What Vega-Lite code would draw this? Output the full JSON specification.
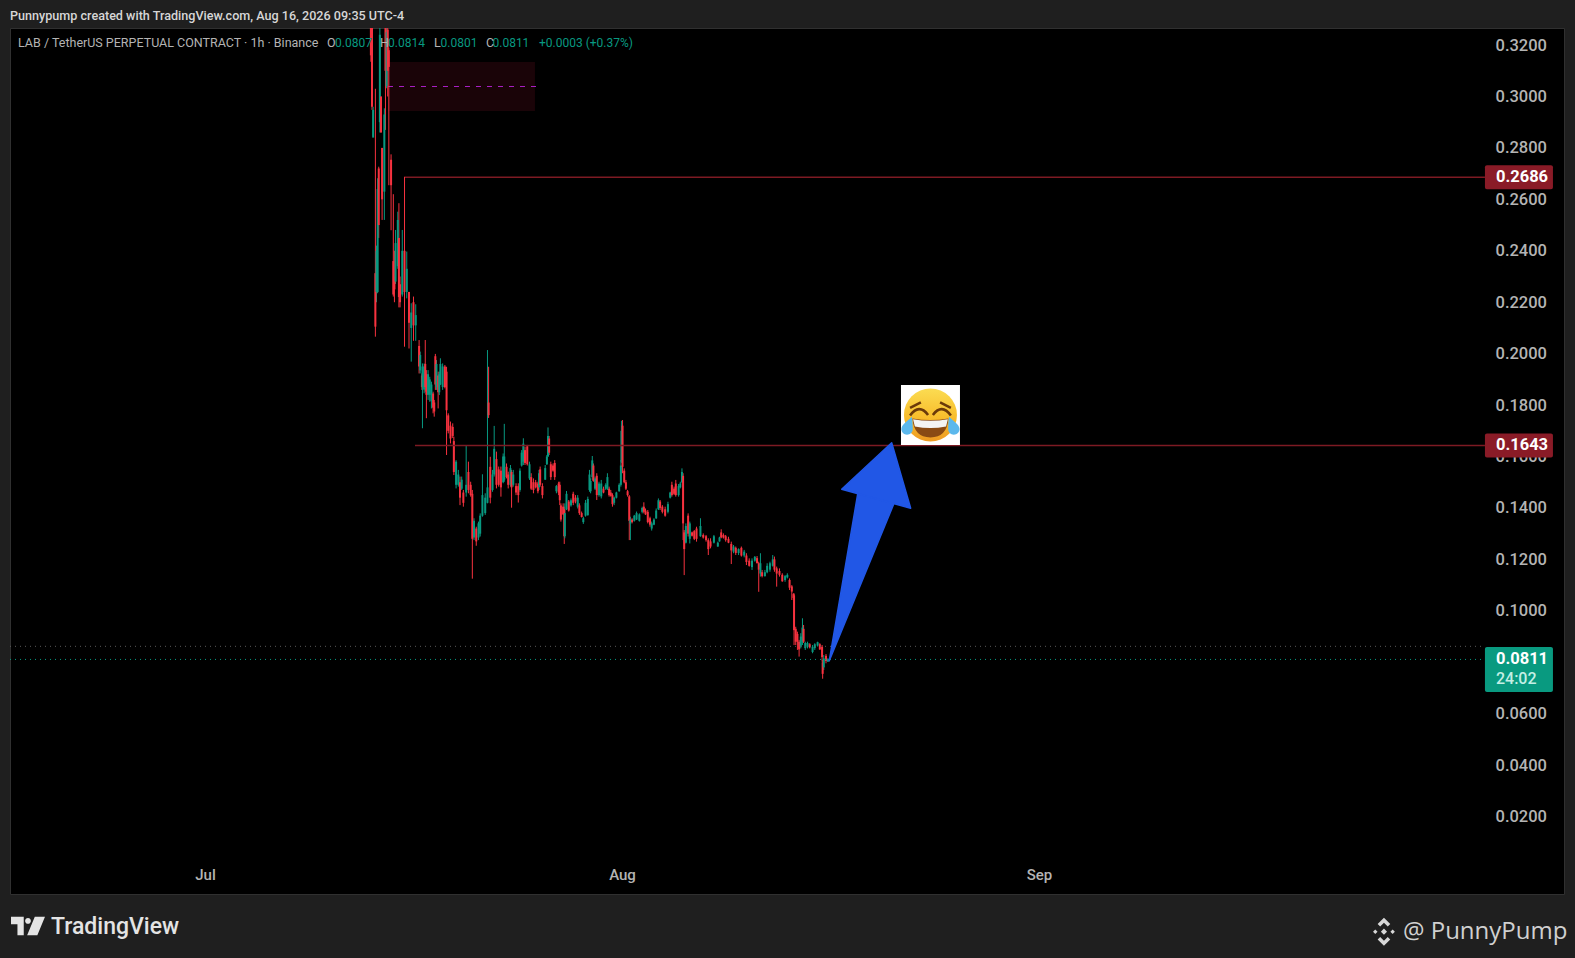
{"$schema":"https://vega.github.io/schema/vega-lite/v6.json","width":1554,"height":866,"autosize":{"type":"none"},"padding":{"left":10,"top":28,"right":11,"bottom":64},"background":"#1f1f1f","view":{"fill":"#000000","stroke":"#303030"},
"datasets":{"candles":[
{"t":"2026-07-13T08:00Z","o":0.342,"h":0.352,"l":0.3135,"c":0.316},
{"t":"2026-07-13T10:00Z","o":0.335,"h":0.35,"l":0.2948,"c":0.296},
{"t":"2026-07-13T12:00Z","o":0.284,"h":0.296,"l":0.2845,"c":0.2948},
{"t":"2026-07-13T16:00Z","o":0.2313,"h":0.303,"l":0.2066,"c":0.2105},
{"t":"2026-07-13T18:00Z","o":0.224,"h":0.242,"l":0.22,"c":0.24},
{"t":"2026-07-13T20:00Z","o":0.224,"h":0.2682,"l":0.2235,"c":0.264},
{"t":"2026-07-13T22:00Z","o":0.272,"h":0.2727,"l":0.245,"c":0.25},
{"t":"2026-07-14T00:00Z","o":0.29,"h":0.35,"l":0.286,"c":0.324},
{"t":"2026-07-14T02:00Z","o":0.3,"h":0.3,"l":0.286,"c":0.286},
{"t":"2026-07-14T04:00Z","o":0.28,"h":0.28,"l":0.252,"c":0.26},
{"t":"2026-07-14T08:00Z","o":0.263,"h":0.2954,"l":0.252,"c":0.293},
{"t":"2026-07-14T10:00Z","o":0.34,"h":0.36,"l":0.287,"c":0.31},
{"t":"2026-07-14T12:00Z","o":0.304,"h":0.36,"l":0.3032,"c":0.325},
{"t":"2026-07-14T14:00Z","o":0.326,"h":0.33,"l":0.3,"c":0.31},
{"t":"2026-07-14T16:00Z","o":0.318,"h":0.319,"l":0.2655,"c":0.3115},
{"t":"2026-07-14T20:00Z","o":0.2754,"h":0.2775,"l":0.248,"c":0.2655},
{"t":"2026-07-15T00:00Z","o":0.236,"h":0.262,"l":0.2222,"c":0.223},
{"t":"2026-07-15T02:00Z","o":0.23,"h":0.24,"l":0.22,"c":0.225},
{"t":"2026-07-15T04:00Z","o":0.228,"h":0.2481,"l":0.2271,"c":0.243},
{"t":"2026-07-15T08:00Z","o":0.234,"h":0.2552,"l":0.233,"c":0.252},
{"t":"2026-07-15T10:00Z","o":0.245,"h":0.2585,"l":0.218,"c":0.222},
{"t":"2026-07-15T12:00Z","o":0.227,"h":0.23,"l":0.218,"c":0.22},
{"t":"2026-07-15T16:00Z","o":0.223,"h":0.2481,"l":0.2222,"c":0.24},
{"t":"2026-07-15T20:00Z","o":0.24,"h":0.2688,"l":0.2027,"c":0.224},
{"t":"2026-07-16T00:00Z","o":0.224,"h":0.2397,"l":0.2215,"c":0.233},
{"t":"2026-07-16T04:00Z","o":0.224,"h":0.224,"l":0.202,"c":0.212},
{"t":"2026-07-16T08:00Z","o":0.21,"h":0.2196,"l":0.1969,"c":0.216},
{"t":"2026-07-16T12:00Z","o":0.22,"h":0.2222,"l":0.205,"c":0.211},
{"t":"2026-07-16T16:00Z","o":0.211,"h":0.2192,"l":0.205,"c":0.215},
{"t":"2026-07-16T22:00Z","o":0.203,"h":0.2053,"l":0.1923,"c":0.195},
{"t":"2026-07-17T00:00Z","o":0.1935,"h":0.2008,"l":0.1923,"c":0.1995},
{"t":"2026-07-17T03:00Z","o":0.1915,"h":0.1923,"l":0.1859,"c":0.187},
{"t":"2026-07-17T04:00Z","o":0.187,"h":0.1962,"l":0.171,"c":0.195},
{"t":"2026-07-17T07:00Z","o":0.186,"h":0.1962,"l":0.1846,"c":0.195},
{"t":"2026-07-17T09:00Z","o":0.196,"h":0.2053,"l":0.1852,"c":0.187},
{"t":"2026-07-17T11:00Z","o":0.192,"h":0.1936,"l":0.1749,"c":0.184},
{"t":"2026-07-17T14:00Z","o":0.184,"h":0.1936,"l":0.182,"c":0.192},
{"t":"2026-07-17T17:00Z","o":0.184,"h":0.191,"l":0.1813,"c":0.19},
{"t":"2026-07-17T20:00Z","o":0.1815,"h":0.1891,"l":0.1787,"c":0.188},
{"t":"2026-07-17T23:00Z","o":0.1845,"h":0.1852,"l":0.1768,"c":0.179},
{"t":"2026-07-18T01:00Z","o":0.181,"h":0.182,"l":0.1755,"c":0.1775},
{"t":"2026-07-18T03:00Z","o":0.199,"h":0.1999,"l":0.1859,"c":0.188},
{"t":"2026-07-18T05:00Z","o":0.187,"h":0.1975,"l":0.1859,"c":0.196},
{"t":"2026-07-18T08:00Z","o":0.1915,"h":0.193,"l":0.1787,"c":0.185},
{"t":"2026-07-18T10:00Z","o":0.185,"h":0.193,"l":0.1839,"c":0.192},
{"t":"2026-07-18T12:00Z","o":0.188,"h":0.1982,"l":0.1878,"c":0.196},
{"t":"2026-07-18T16:00Z","o":0.187,"h":0.1962,"l":0.1859,"c":0.195},
{"t":"2026-07-18T20:00Z","o":0.195,"h":0.1956,"l":0.1865,"c":0.187},
{"t":"2026-07-18T23:00Z","o":0.193,"h":0.1949,"l":0.1606,"c":0.178},
{"t":"2026-07-19T02:00Z","o":0.176,"h":0.1768,"l":0.169,"c":0.17},
{"t":"2026-07-19T06:00Z","o":0.172,"h":0.1736,"l":0.1651,"c":0.167},
{"t":"2026-07-19T10:00Z","o":0.1715,"h":0.1729,"l":0.1672,"c":0.168},
{"t":"2026-07-19T12:00Z","o":0.166,"h":0.1677,"l":0.1528,"c":0.154},
{"t":"2026-07-19T16:00Z","o":0.149,"h":0.1586,"l":0.1476,"c":0.158},
{"t":"2026-07-19T20:00Z","o":0.149,"h":0.1548,"l":0.1483,"c":0.153},
{"t":"2026-07-19T23:00Z","o":0.15,"h":0.1522,"l":0.1411,"c":0.144},
{"t":"2026-07-20T02:00Z","o":0.1475,"h":0.1522,"l":0.147,"c":0.151},
{"t":"2026-07-20T05:00Z","o":0.146,"h":0.147,"l":0.1405,"c":0.142},
{"t":"2026-07-20T10:00Z","o":0.146,"h":0.1641,"l":0.1444,"c":0.149},
{"t":"2026-07-20T14:00Z","o":0.154,"h":0.158,"l":0.1457,"c":0.147},
{"t":"2026-07-20T18:00Z","o":0.149,"h":0.1502,"l":0.1444,"c":0.145},
{"t":"2026-07-20T21:00Z","o":0.1455,"h":0.147,"l":0.1125,"c":0.128},
{"t":"2026-07-21T00:00Z","o":0.1285,"h":0.136,"l":0.1275,"c":0.135},
{"t":"2026-07-21T04:00Z","o":0.132,"h":0.1327,"l":0.1253,"c":0.127},
{"t":"2026-07-21T08:00Z","o":0.1285,"h":0.1347,"l":0.1275,"c":0.134},
{"t":"2026-07-21T11:00Z","o":0.13,"h":0.1379,"l":0.1289,"c":0.137},
{"t":"2026-07-21T15:00Z","o":0.137,"h":0.1531,"l":0.1366,"c":0.145},
{"t":"2026-07-21T20:00Z","o":0.138,"h":0.1457,"l":0.1373,"c":0.144},
{"t":"2026-07-22T00:00Z","o":0.142,"h":0.2014,"l":0.1418,"c":0.148},
{"t":"2026-07-22T02:00Z","o":0.181,"h":0.1949,"l":0.175,"c":0.1761},
{"t":"2026-07-22T05:00Z","o":0.156,"h":0.1599,"l":0.1418,"c":0.144},
{"t":"2026-07-22T09:00Z","o":0.147,"h":0.1548,"l":0.1463,"c":0.153},
{"t":"2026-07-22T12:00Z","o":0.153,"h":0.1719,"l":0.1522,"c":0.163},
{"t":"2026-07-22T16:00Z","o":0.159,"h":0.1619,"l":0.1476,"c":0.149},
{"t":"2026-07-22T20:00Z","o":0.155,"h":0.1561,"l":0.1483,"c":0.149},
{"t":"2026-07-23T00:00Z","o":0.1545,"h":0.1561,"l":0.1444,"c":0.148},
{"t":"2026-07-23T04:00Z","o":0.15,"h":0.1612,"l":0.1496,"c":0.16},
{"t":"2026-07-23T06:00Z","o":0.151,"h":0.1727,"l":0.1502,"c":0.16},
{"t":"2026-07-23T10:00Z","o":0.156,"h":0.1573,"l":0.1515,"c":0.152},
{"t":"2026-07-23T13:00Z","o":0.153,"h":0.1541,"l":0.1476,"c":0.149},
{"t":"2026-07-23T17:00Z","o":0.149,"h":0.1567,"l":0.1483,"c":0.1555},
{"t":"2026-07-23T19:00Z","o":0.154,"h":0.1548,"l":0.1401,"c":0.148},
{"t":"2026-07-23T22:00Z","o":0.149,"h":0.1548,"l":0.1483,"c":0.153},
{"t":"2026-07-24T03:00Z","o":0.1485,"h":0.1496,"l":0.145,"c":0.146},
{"t":"2026-07-24T07:00Z","o":0.1485,"h":0.1496,"l":0.1421,"c":0.145},
{"t":"2026-07-24T10:00Z","o":0.147,"h":0.1554,"l":0.1463,"c":0.1545},
{"t":"2026-07-24T13:00Z","o":0.1565,"h":0.1625,"l":0.1561,"c":0.1615},
{"t":"2026-07-24T16:00Z","o":0.158,"h":0.1671,"l":0.1567,"c":0.165},
{"t":"2026-07-24T19:00Z","o":0.1625,"h":0.1638,"l":0.1567,"c":0.1575},
{"t":"2026-07-24T23:00Z","o":0.164,"h":0.1645,"l":0.1565,"c":0.157},
{"t":"2026-07-25T03:00Z","o":0.1515,"h":0.158,"l":0.1509,"c":0.157},
{"t":"2026-07-25T06:00Z","o":0.152,"h":0.1535,"l":0.147,"c":0.1475},
{"t":"2026-07-25T10:00Z","o":0.15,"h":0.1515,"l":0.1457,"c":0.147},
{"t":"2026-07-25T14:00Z","o":0.15,"h":0.1509,"l":0.1476,"c":0.148},
{"t":"2026-07-25T18:00Z","o":0.1495,"h":0.1502,"l":0.1457,"c":0.1465},
{"t":"2026-07-25T20:00Z","o":0.148,"h":0.1548,"l":0.147,"c":0.1535},
{"t":"2026-07-25T22:00Z","o":0.155,"h":0.1561,"l":0.1483,"c":0.149},
{"t":"2026-07-26T02:00Z","o":0.1485,"h":0.1496,"l":0.1437,"c":0.145},
{"t":"2026-07-26T07:00Z","o":0.151,"h":0.1567,"l":0.1509,"c":0.1555},
{"t":"2026-07-26T10:00Z","o":0.157,"h":0.1606,"l":0.1567,"c":0.16},
{"t":"2026-07-26T12:00Z","o":0.16,"h":0.1713,"l":0.1599,"c":0.168},
{"t":"2026-07-26T14:00Z","o":0.167,"h":0.168,"l":0.1606,"c":0.1615},
{"t":"2026-07-26T17:00Z","o":0.157,"h":0.158,"l":0.1509,"c":0.152},
{"t":"2026-07-26T21:00Z","o":0.1565,"h":0.1573,"l":0.1541,"c":0.1545},
{"t":"2026-07-27T00:00Z","o":0.1575,"h":0.1586,"l":0.1509,"c":0.152},
{"t":"2026-07-27T03:00Z","o":0.1465,"h":0.1489,"l":0.1457,"c":0.1485},
{"t":"2026-07-27T07:00Z","o":0.1495,"h":0.1502,"l":0.145,"c":0.146},
{"t":"2026-07-27T09:00Z","o":0.149,"h":0.1502,"l":0.1411,"c":0.143},
{"t":"2026-07-27T11:00Z","o":0.141,"h":0.1418,"l":0.1347,"c":0.1355},
{"t":"2026-07-27T15:00Z","o":0.1405,"h":0.1418,"l":0.1373,"c":0.1375},
{"t":"2026-07-27T17:00Z","o":0.1395,"h":0.1405,"l":0.126,"c":0.129},
{"t":"2026-07-27T18:00Z","o":0.129,"h":0.1418,"l":0.1282,"c":0.138},
{"t":"2026-07-27T21:00Z","o":0.1395,"h":0.1466,"l":0.1392,"c":0.1455},
{"t":"2026-07-28T01:00Z","o":0.1425,"h":0.1431,"l":0.1386,"c":0.139},
{"t":"2026-07-28T05:00Z","o":0.141,"h":0.1437,"l":0.1405,"c":0.143},
{"t":"2026-07-28T09:00Z","o":0.1455,"h":0.1463,"l":0.1411,"c":0.142},
{"t":"2026-07-28T13:00Z","o":0.144,"h":0.145,"l":0.1418,"c":0.1425},
{"t":"2026-07-28T17:00Z","o":0.1405,"h":0.145,"l":0.1398,"c":0.144},
{"t":"2026-07-28T20:00Z","o":0.141,"h":0.1418,"l":0.1373,"c":0.138},
{"t":"2026-07-29T00:00Z","o":0.138,"h":0.1386,"l":0.1363,"c":0.1365},
{"t":"2026-07-29T03:00Z","o":0.1345,"h":0.1366,"l":0.1338,"c":0.136},
{"t":"2026-07-29T07:00Z","o":0.137,"h":0.1431,"l":0.1366,"c":0.142},
{"t":"2026-07-29T11:00Z","o":0.1372,"h":0.1444,"l":0.137,"c":0.1435},
{"t":"2026-07-29T14:00Z","o":0.147,"h":0.1548,"l":0.1463,"c":0.153},
{"t":"2026-07-29T16:00Z","o":0.1465,"h":0.1515,"l":0.1457,"c":0.1505},
{"t":"2026-07-29T19:00Z","o":0.152,"h":0.1602,"l":0.1509,"c":0.1585},
{"t":"2026-07-29T21:00Z","o":0.1565,"h":0.1573,"l":0.1502,"c":0.1505},
{"t":"2026-07-30T00:00Z","o":0.1475,"h":0.1522,"l":0.147,"c":0.1515},
{"t":"2026-07-30T03:00Z","o":0.1525,"h":0.1535,"l":0.1431,"c":0.145},
{"t":"2026-07-30T07:00Z","o":0.145,"h":0.1502,"l":0.1444,"c":0.1495},
{"t":"2026-07-30T11:00Z","o":0.1445,"h":0.1509,"l":0.1437,"c":0.1495},
{"t":"2026-07-30T15:00Z","o":0.1475,"h":0.1483,"l":0.1457,"c":0.146},
{"t":"2026-07-30T19:00Z","o":0.1475,"h":0.1496,"l":0.147,"c":0.149},
{"t":"2026-07-30T22:00Z","o":0.1475,"h":0.1535,"l":0.147,"c":0.152},
{"t":"2026-07-31T01:00Z","o":0.1475,"h":0.1483,"l":0.1444,"c":0.145},
{"t":"2026-07-31T04:00Z","o":0.146,"h":0.147,"l":0.1444,"c":0.1447},
{"t":"2026-07-31T07:00Z","o":0.145,"h":0.1457,"l":0.1405,"c":0.1415},
{"t":"2026-07-31T10:00Z","o":0.142,"h":0.1444,"l":0.1411,"c":0.144},
{"t":"2026-07-31T14:00Z","o":0.144,"h":0.1463,"l":0.1437,"c":0.146},
{"t":"2026-07-31T19:00Z","o":0.1465,"h":0.1496,"l":0.1463,"c":0.149},
{"t":"2026-07-31T22:00Z","o":0.149,"h":0.1586,"l":0.1483,"c":0.1565},
{"t":"2026-07-31T23:00Z","o":0.158,"h":0.1739,"l":0.1575,"c":0.17},
{"t":"2026-08-01T01:00Z","o":0.172,"h":0.1742,"l":0.1535,"c":0.156},
{"t":"2026-08-01T04:00Z","o":0.1545,"h":0.1554,"l":0.1496,"c":0.15},
{"t":"2026-08-01T07:00Z","o":0.15,"h":0.1509,"l":0.147,"c":0.1475},
{"t":"2026-08-01T10:00Z","o":0.1465,"h":0.147,"l":0.1444,"c":0.145},
{"t":"2026-08-01T13:00Z","o":0.1445,"h":0.145,"l":0.1275,"c":0.135},
{"t":"2026-08-01T15:00Z","o":0.134,"h":0.1366,"l":0.1275,"c":0.1355},
{"t":"2026-08-01T18:00Z","o":0.1355,"h":0.136,"l":0.134,"c":0.1345},
{"t":"2026-08-01T22:00Z","o":0.135,"h":0.1373,"l":0.1347,"c":0.137},
{"t":"2026-08-02T02:00Z","o":0.1355,"h":0.1386,"l":0.1353,"c":0.138},
{"t":"2026-08-02T07:00Z","o":0.135,"h":0.1379,"l":0.1347,"c":0.1375},
{"t":"2026-08-02T12:00Z","o":0.1385,"h":0.1405,"l":0.1379,"c":0.14},
{"t":"2026-08-02T15:00Z","o":0.1405,"h":0.1422,"l":0.1379,"c":0.1385},
{"t":"2026-08-02T18:00Z","o":0.139,"h":0.1398,"l":0.1373,"c":0.1375},
{"t":"2026-08-02T22:00Z","o":0.1385,"h":0.1392,"l":0.134,"c":0.1345},
{"t":"2026-08-03T02:00Z","o":0.136,"h":0.1366,"l":0.1327,"c":0.1335},
{"t":"2026-08-03T05:00Z","o":0.132,"h":0.1347,"l":0.1312,"c":0.134},
{"t":"2026-08-03T09:00Z","o":0.1335,"h":0.136,"l":0.1333,"c":0.1355},
{"t":"2026-08-03T13:00Z","o":0.136,"h":0.1398,"l":0.1357,"c":0.139},
{"t":"2026-08-03T17:00Z","o":0.1395,"h":0.1437,"l":0.1392,"c":0.143},
{"t":"2026-08-03T20:00Z","o":0.1425,"h":0.1431,"l":0.1392,"c":0.14},
{"t":"2026-08-04T00:00Z","o":0.1405,"h":0.1411,"l":0.1379,"c":0.1385},
{"t":"2026-08-04T05:00Z","o":0.1395,"h":0.1405,"l":0.1366,"c":0.137},
{"t":"2026-08-04T10:00Z","o":0.1385,"h":0.1424,"l":0.1379,"c":0.1415},
{"t":"2026-08-04T14:00Z","o":0.144,"h":0.1463,"l":0.1437,"c":0.146},
{"t":"2026-08-04T17:00Z","o":0.149,"h":0.1502,"l":0.1444,"c":0.145},
{"t":"2026-08-04T21:00Z","o":0.1475,"h":0.1483,"l":0.145,"c":0.1455},
{"t":"2026-08-05T00:00Z","o":0.1495,"h":0.1509,"l":0.1444,"c":0.145},
{"t":"2026-08-05T05:00Z","o":0.145,"h":0.1493,"l":0.1444,"c":0.1485},
{"t":"2026-08-05T08:00Z","o":0.148,"h":0.1502,"l":0.1476,"c":0.1495},
{"t":"2026-08-05T11:00Z","o":0.15,"h":0.1554,"l":0.1496,"c":0.154},
{"t":"2026-08-05T13:00Z","o":0.1525,"h":0.1535,"l":0.1275,"c":0.134},
{"t":"2026-08-05T15:00Z","o":0.1305,"h":0.1314,"l":0.1139,"c":0.124},
{"t":"2026-08-05T18:00Z","o":0.1265,"h":0.134,"l":0.1262,"c":0.133},
{"t":"2026-08-05T22:00Z","o":0.137,"h":0.1379,"l":0.1289,"c":0.13},
{"t":"2026-08-06T01:00Z","o":0.128,"h":0.1347,"l":0.1262,"c":0.134},
{"t":"2026-08-06T05:00Z","o":0.1305,"h":0.1308,"l":0.1289,"c":0.1292},
{"t":"2026-08-06T09:00Z","o":0.131,"h":0.1314,"l":0.1275,"c":0.128},
{"t":"2026-08-06T13:00Z","o":0.132,"h":0.1327,"l":0.1269,"c":0.128},
{"t":"2026-08-06T20:00Z","o":0.129,"h":0.136,"l":0.1288,"c":0.133},
{"t":"2026-08-07T01:00Z","o":0.1295,"h":0.1301,"l":0.1281,"c":0.1285},
{"t":"2026-08-07T06:00Z","o":0.129,"h":0.1295,"l":0.1269,"c":0.1275},
{"t":"2026-08-07T10:00Z","o":0.1275,"h":0.1282,"l":0.1217,"c":0.124},
{"t":"2026-08-07T14:00Z","o":0.127,"h":0.1282,"l":0.1243,"c":0.125},
{"t":"2026-08-07T20:00Z","o":0.1265,"h":0.1295,"l":0.1262,"c":0.129},
{"t":"2026-08-08T03:00Z","o":0.125,"h":0.1269,"l":0.1249,"c":0.1265},
{"t":"2026-08-08T06:00Z","o":0.127,"h":0.1288,"l":0.1269,"c":0.1285},
{"t":"2026-08-08T09:00Z","o":0.1305,"h":0.1317,"l":0.1282,"c":0.1285},
{"t":"2026-08-08T13:00Z","o":0.1295,"h":0.1301,"l":0.1281,"c":0.1285},
{"t":"2026-08-08T17:00Z","o":0.129,"h":0.1295,"l":0.1269,"c":0.1275},
{"t":"2026-08-08T22:00Z","o":0.128,"h":0.1288,"l":0.1263,"c":0.1265},
{"t":"2026-08-09T03:00Z","o":0.126,"h":0.1269,"l":0.1182,"c":0.1235},
{"t":"2026-08-09T07:00Z","o":0.123,"h":0.1256,"l":0.1224,"c":0.125},
{"t":"2026-08-09T11:00Z","o":0.1245,"h":0.125,"l":0.1217,"c":0.1225},
{"t":"2026-08-09T16:00Z","o":0.1225,"h":0.1243,"l":0.1217,"c":0.124},
{"t":"2026-08-09T21:00Z","o":0.1245,"h":0.125,"l":0.1211,"c":0.1215},
{"t":"2026-08-10T02:00Z","o":0.1215,"h":0.1237,"l":0.1208,"c":0.123},
{"t":"2026-08-10T06:00Z","o":0.1215,"h":0.1224,"l":0.1178,"c":0.119},
{"t":"2026-08-10T11:00Z","o":0.1195,"h":0.1204,"l":0.1172,"c":0.1175},
{"t":"2026-08-10T16:00Z","o":0.117,"h":0.1204,"l":0.1159,"c":0.1195},
{"t":"2026-08-10T21:00Z","o":0.1195,"h":0.1213,"l":0.1191,"c":0.121},
{"t":"2026-08-11T01:00Z","o":0.1205,"h":0.1213,"l":0.1185,"c":0.1185},
{"t":"2026-08-11T04:00Z","o":0.1185,"h":0.1191,"l":0.1074,"c":0.116},
{"t":"2026-08-11T07:00Z","o":0.1145,"h":0.1224,"l":0.1133,"c":0.1185},
{"t":"2026-08-11T10:00Z","o":0.115,"h":0.1159,"l":0.113,"c":0.1135},
{"t":"2026-08-11T15:00Z","o":0.1135,"h":0.1159,"l":0.1133,"c":0.115},
{"t":"2026-08-11T19:00Z","o":0.115,"h":0.1185,"l":0.1146,"c":0.1175},
{"t":"2026-08-12T00:00Z","o":0.116,"h":0.1191,"l":0.1152,"c":0.1185},
{"t":"2026-08-12T05:00Z","o":0.1175,"h":0.1217,"l":0.1172,"c":0.12},
{"t":"2026-08-12T08:00Z","o":0.12,"h":0.1211,"l":0.1152,"c":0.116},
{"t":"2026-08-12T12:00Z","o":0.1165,"h":0.1172,"l":0.1094,"c":0.1145},
{"t":"2026-08-12T17:00Z","o":0.1155,"h":0.1165,"l":0.1133,"c":0.114},
{"t":"2026-08-12T22:00Z","o":0.114,"h":0.1146,"l":0.1113,"c":0.1115},
{"t":"2026-08-13T03:00Z","o":0.112,"h":0.1139,"l":0.1113,"c":0.1135},
{"t":"2026-08-13T07:00Z","o":0.113,"h":0.1146,"l":0.1126,"c":0.114},
{"t":"2026-08-13T11:00Z","o":0.112,"h":0.1126,"l":0.1081,"c":0.109},
{"t":"2026-08-13T15:00Z","o":0.1095,"h":0.11,"l":0.1042,"c":0.1075},
{"t":"2026-08-13T18:00Z","o":0.1065,"h":0.1068,"l":0.1042,"c":0.105},
{"t":"2026-08-13T19:00Z","o":0.106,"h":0.1068,"l":0.0867,"c":0.0925},
{"t":"2026-08-13T22:00Z","o":0.093,"h":0.0938,"l":0.0867,"c":0.088},
{"t":"2026-08-14T01:00Z","o":0.091,"h":0.0919,"l":0.0848,"c":0.088},
{"t":"2026-08-14T04:00Z","o":0.088,"h":0.0887,"l":0.0822,"c":0.085},
{"t":"2026-08-14T07:00Z","o":0.086,"h":0.0913,"l":0.0854,"c":0.09},
{"t":"2026-08-14T10:00Z","o":0.088,"h":0.0971,"l":0.0867,"c":0.0935},
{"t":"2026-08-14T12:00Z","o":0.093,"h":0.0945,"l":0.0875,"c":0.088},
{"t":"2026-08-14T15:00Z","o":0.0855,"h":0.088,"l":0.0848,"c":0.0875},
{"t":"2026-08-14T19:00Z","o":0.086,"h":0.088,"l":0.0854,"c":0.0875},
{"t":"2026-08-14T23:00Z","o":0.087,"h":0.0874,"l":0.0854,"c":0.0858},
{"t":"2026-08-15T04:00Z","o":0.084,"h":0.0867,"l":0.0835,"c":0.086},
{"t":"2026-08-15T08:00Z","o":0.0855,"h":0.0874,"l":0.0848,"c":0.087},
{"t":"2026-08-15T13:00Z","o":0.0865,"h":0.088,"l":0.0861,"c":0.0878},
{"t":"2026-08-15T17:00Z","o":0.087,"h":0.0874,"l":0.0848,"c":0.085},
{"t":"2026-08-15T21:00Z","o":0.086,"h":0.0867,"l":0.0802,"c":0.082},
{"t":"2026-08-15T22:00Z","o":0.08,"h":0.0809,"l":0.0736,"c":0.0755},
{"t":"2026-08-16T00:00Z","o":0.078,"h":0.0828,"l":0.077,"c":0.0815},
{"t":"2026-08-16T04:00Z","o":0.0825,"h":0.0832,"l":0.0796,"c":0.0805},
{"t":"2026-08-16T07:00Z","o":0.0805,"h":0.0815,"l":0.0801,"c":0.081},
{"t":"2026-08-16T09:00Z","o":0.0807,"h":0.0814,"l":0.0801,"c":0.0811}
]},
"encoding":{
"x":{"field":"t","type":"temporal","title":null,"scale":{"type":"utc","nice":false,"padding":0,"domain":[{"year":2026,"month":6,"date":16,"hours":12,"minutes":6,"utc":true},{"year":2026,"month":10,"date":10,"hours":0,"minutes":43,"utc":true}]},"axis":{"values":[{"year":2026,"month":7,"date":1,"utc":true},{"year":2026,"month":8,"date":1,"utc":true},{"year":2026,"month":9,"date":1,"utc":true}],"format":"%b","title":null,"grid":false,"ticks":false,"domain":false,"offset":-27,"labelPadding":0,"labelColor":"#b4b4b4","labelFont":"Roboto","labelFontSize":15,"labelFontWeight":500,"labelBaseline":"top"}},
"y":{"field":"p","type":"quantitative","title":null,"scale":{"domain":[-0.01011,0.32663],"nice":false,"zero":false},"axis":{"orient":"right","values":[0.02,0.04,0.06,0.08,0.1,0.12,0.14,0.16,0.18,0.2,0.22,0.24,0.26,0.28,0.3,0.32],"format":".4f","title":null,"grid":false,"ticks":false,"domain":false,"offset":-69,"labelPadding":0,"labelColor":"#b4b4b4","labelFont":"Roboto","labelFontSize":16.5,"labelFontWeight":500,"labelOverlap":false}}
},
"layer":[
{"data":{"values":[{"t":"2026-07-14T14:30Z","t2":"2026-07-25T12:44Z","p":0.31341,"p2":0.29436}]},"mark":{"type":"rect","color":"#1a0408"},"encoding":{"x2":{"field":"t2"},"y2":{"field":"p2"}}},
{"data":{"values":[{"t":"2026-07-14T14:30Z","t2":"2026-07-25T18:07Z","p":0.30388}]},"mark":{"type":"rule","color":"#a81fc4","strokeWidth":1,"strokeDash":[5,6]},"encoding":{"x2":{"field":"t2"}}},
{"data":{"name":"candles"},"mark":{"type":"rule","clip":true,"strokeWidth":1},"encoding":{"y":{"field":"h","type":"quantitative","title":null},"y2":{"field":"l"},"color":{"condition":{"test":"datum.c>=datum.o","value":"#089981"},"value":"#f7323f"}}},
{"data":{"name":"candles"},"mark":{"type":"bar","clip":true,"width":2},"encoding":{"y":{"field":"o","type":"quantitative","title":null},"y2":{"field":"c"},"color":{"condition":{"test":"datum.c>=datum.o","value":"#089981"},"value":"#f7323f"}}},
{"data":{"values":[{"t":"2026-07-15T20:50Z","t2":"2026-10-04T03:40Z","p":0.2686},{"t":"2026-07-16T14:40Z","t2":"2026-10-04T03:40Z","p":0.1643}]},"mark":{"type":"rule","color":"#7d1a23","strokeWidth":1.4},"encoding":{"x2":{"field":"t2"}}},
{"data":{"values":[{"t":"2026-06-16T12:06Z","t2":"2026-10-04T03:40Z","p":0.0862}]},"mark":{"type":"rule","color":"#5a5a5a","strokeWidth":1,"strokeDash":[1,4]},"encoding":{"x2":{"field":"t2"}}},
{"data":{"values":[{"t":"2026-06-16T12:06Z","t2":"2026-10-04T03:40Z","p":0.0811}]},"mark":{"type":"rule","color":"#089981","strokeWidth":1,"strokeDash":[1,4]},"encoding":{"x2":{"field":"t2"}}},
{"data":{"values":[{"t":"2026-10-04T03:40Z","t2":"2026-10-09T05:00Z","p":0.27327,"p2":0.26393},{"t":"2026-10-04T03:40Z","t2":"2026-10-09T05:00Z","p":0.16897,"p2":0.15963}]},"mark":{"type":"rect","color":"#8a1b27","cornerRadius":2},"encoding":{"x2":{"field":"t2"},"y2":{"field":"p2"}}},
{"data":{"values":[{"t":"2026-10-04T03:40Z","t2":"2026-10-09T05:00Z","p":0.08594,"p2":0.06844}]},"mark":{"type":"rect","color":"#099a80","cornerRadius":2},"encoding":{"x2":{"field":"t2"},"y2":{"field":"p2"}}},
{"data":{"values":[{"part":"shaft","t":"2026-08-16T09:50Z","p":0.08061,"p2":0.08061},{"part":"shaft","t":"2026-08-18T13:33Z","p":0.14671,"p2":0.10802},{"part":"shaft","t":"2026-08-21T07:03Z","p":0.14271,"p2":0.14271},{"part":"head","t":"2026-08-17T07:55Z","p":0.14726,"p2":0.14726},{"part":"head","t":"2026-08-21T01:10Z","p":0.16538,"p2":0.1419},{"part":"head","t":"2026-08-22T11:03Z","p":0.13987,"p2":0.13987}]},"mark":{"type":"area","color":"#2157e6","stroke":"#2157e6","strokeWidth":1.5,"strokeJoin":"round","opacity":1},"encoding":{"y2":{"field":"p2"},"detail":{"field":"part"}}},
{"data":{"values":[{"t":"2026-08-21T17:46Z","t2":"2026-08-26T03:01Z","p":0.18781,"p2":0.16449}]},"mark":{"type":"rect","color":"#ffffff"},"encoding":{"x2":{"field":"t2"},"y2":{"field":"p2"}}},
{"data":{"values":[{"t":"2026-08-23T22:22Z","p":0.17615}]},"mark":{"type":"point","shape":"circle","filled":true,"size":2809,"opacity":1,"strokeWidth":0,"fill":{"x1":0,"y1":0,"x2":0,"y2":1,"gradient":"linear","stops":[{"offset":0,"color":"#fbdc52"},{"offset":0.55,"color":"#f8bd2c"},{"offset":1,"color":"#ee9a22"}]}}},
{"data":{"values":[{"t":"2026-08-23T22:22Z","p":0.17615}]},"mark":{"type":"point","shape":"M-.6,.12 Q0,.22 .6,.12 Q.55,.75 0,.75 Q-.55,.75 -.6,.12Z","filled":true,"size":3600,"opacity":1,"strokeWidth":0,"color":"#8a4a14"}},
{"data":{"values":[{"t":"2026-08-23T22:22Z","p":0.17615}]},"mark":{"type":"point","shape":"M-.58,.14 Q0,.24 .58,.14 L.52,.38 Q0,.48 -.52,.38 Z","filled":true,"size":3600,"opacity":1,"strokeWidth":0,"color":"#f4f4f4"}},
{"data":{"values":[{"t":"2026-08-23T22:22Z","p":0.17615}]},"mark":{"type":"point","shape":"M-.68,.02 Q-.38,-.4 -.08,0 M.08,0 Q.38,-.4 .68,.02 M-.68,-.24 L-.32,-.42 M.68,-.24 L.32,-.42","filled":false,"size":3600,"opacity":1,"strokeWidth":2.6,"color":"#6b3a0a"}},
{"data":{"values":[{"t":"2026-08-23T22:22Z","p":0.17615}]},"mark":{"type":"point","shape":"M-.62,.06 C-.75,.2 -.97,.32 -.97,.47 A.19,.19 0 0 0 -.59,.47 C-.59,.3 -.6,.2 -.62,.06Z M.62,.06 C.75,.2 .97,.32 .97,.47 A.19,.19 0 0 1 .59,.47 C.59,.3 .6,.2 .62,.06Z","filled":true,"size":3600,"opacity":1,"strokeWidth":0,"color":"#5cb8ec"}},
{"data":{"values":[{"label":"Punnypump created with TradingView.com, Aug 16, 2026 09:35 UTC-4","t":"2026-06-16T12:06Z","p":0.33149}]},"mark":{"type":"text","align":"left","baseline":"middle","font":"Roboto","fontSize":12.6,"fontWeight":500,"color":"#d6d6d6"},"encoding":{"text":{"field":"label"}}},
{"data":{"values":[{"label":"LAB / TetherUS PERPETUAL CONTRACT · 1h · Binance","t":"2026-06-17T02:24Z","p":0.32061},{"label":"O","t":"2026-07-10T01:39Z","p":0.32061},{"label":"H","t":"2026-07-14T00:13Z","p":0.32061},{"label":"L","t":"2026-07-18T00:34Z","p":0.32061},{"label":"C","t":"2026-07-21T21:20Z","p":0.32061}]},"mark":{"type":"text","align":"left","baseline":"middle","font":"Roboto","fontSize":12.5,"color":"#b4b4b4"},"encoding":{"text":{"field":"label"}}},
{"data":{"values":[{"label":"0.0807","t":"2026-07-10T15:56Z","p":0.32061},{"label":"0.0814","t":"2026-07-14T14:30Z","p":0.32061},{"label":"0.0801","t":"2026-07-18T12:10Z","p":0.32061},{"label":"0.0811","t":"2026-07-22T08:56Z","p":0.32061},{"label":"+0.0003 (+0.37%)","t":"2026-07-25T19:53Z","p":0.32061}]},"mark":{"type":"text","align":"left","baseline":"middle","font":"Roboto","fontSize":12,"color":"#089981"},"encoding":{"text":{"field":"label"}}},
{"data":{"values":[{"label":"0.2686","t":"2026-10-04T23:18Z","p":0.2686},{"label":"0.1643","t":"2026-10-04T23:18Z","p":0.1643},{"label":"0.0811","t":"2026-10-04T23:18Z","p":0.0811}]},"mark":{"type":"text","align":"left","baseline":"middle","font":"Roboto","fontSize":16.5,"fontWeight":700,"color":"#ffffff"},"encoding":{"text":{"field":"label"}}},
{"data":{"values":[{"label":"24:02","t":"2026-10-04T23:18Z","p":0.07338}]},"mark":{"type":"text","align":"left","baseline":"middle","font":"Roboto","fontSize":16,"fontWeight":500,"color":"#c4efe5"},"encoding":{"text":{"field":"label"}}},
{"data":{"values":[{"t":"2026-06-17T20:12Z","p":-0.02255}]},"mark":{"type":"point","shape":"M-1,-.55 H-.25 V.55 H-.62 V-.1 H-1 Z M-.17,-.3 a.17,.17 0 1 0 .34,0 a.17,.17 0 1 0 -.34,0Z M.4,-.55 H1 L.55,.55 H-.05 Z","filled":true,"size":1156,"opacity":1,"strokeWidth":0,"color":"#e4e4e4"}},
{"data":{"values":[{"label":"TradingView","t":"2026-06-19T13:15Z","p":-0.02283}]},"mark":{"type":"text","align":"left","baseline":"middle","font":"Roboto","fontSize":23,"fontWeight":500,"color":"#e4e4e4"},"encoding":{"text":{"field":"label"}}},
{"data":{"values":[{"t":"2026-09-26T15:29Z","p":-0.02477}]},"mark":{"type":"point","shape":"M0,-1 L.45,-.55 L.27,-.37 L0,-.64 L-.27,-.37 L-.45,-.55Z M0,1 L.45,.55 L.27,.37 L0,.64 L-.27,.37 L-.45,.55Z M0,-.22 L.22,0 L0,.22 L-.22,0Z M-.62,-.16 L-.46,0 L-.62,.16 L-.78,0Z M.62,-.16 L.46,0 L.62,.16 L.78,0Z","filled":true,"size":784,"opacity":1,"strokeWidth":0,"color":"#d8d8d8"}},
{"data":{"values":[{"label":"@ PunnyPump","t":"2026-09-28T01:22Z","p":-0.02477}]},"mark":{"type":"text","align":"left","baseline":"middle","font":"Open Sans","fontSize":24,"color":"#d0d0d0"},"encoding":{"text":{"field":"label"}}}
]}
